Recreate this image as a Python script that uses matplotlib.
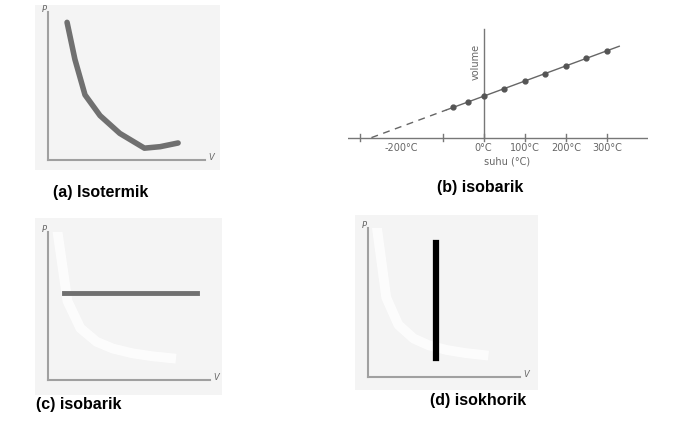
import matplotlib.pyplot as plt
import numpy as np

W, H = 673, 426

# (a) isothermal curve, P vs V (arbitrary units)
iso_v = [0.85, 1.2, 1.65, 2.32, 3.2, 4.3, 5.0, 5.8]
iso_p = [9.3, 6.8, 4.4, 3.0, 1.8, 0.8, 0.9, 1.15]
# (b) Charles' law: volume vs temperature
temp_pts = [-75, -37, 0, 50, 100, 150, 200, 250, 300]
vol_pts = [32, 38, 44, 52, 60, 68, 76, 84, 92]
temp_line = [-90, 330]
vol_line = [29.5, 97]
temp_dash = [-273, -90]
vol_dash = [0, 29.5]
tick_temps = [-300, -100, 0, 100, 200, 300]
label_temps = [-200, 0, 100, 200, 300]
label_text = ["-200\u00b0C", "0\u00b0C", "100\u00b0C", "200\u00b0C", "300\u00b0C"]
# (c) isobaric: constant P
c_v = [0.5, 4.6]
c_p = [2.35, 2.35]
# (d) isochoric: constant V
d_v = [2.24, 2.24]
d_p = [0.5, 3.6]

fig = plt.figure(figsize=(W / 100, H / 100), dpi=100)


def px_axes(x0, y0, x1, y1):
    return fig.add_axes([x0 / W, 1 - y1 / H, (x1 - x0) / W, (y1 - y0) / H])


def pv_panel(rect, bg_rect, curve=True):
    bg = px_axes(*bg_rect)
    bg.set_axis_off()
    bg.add_patch(plt.Rectangle((0, 0), 1, 1, color="#f4f4f4", transform=bg.transAxes))
    ax = px_axes(*rect)
    ax.patch.set_alpha(0)
    for s in ("top", "right"):
        ax.spines[s].set_visible(False)
    for s in ("left", "bottom"):
        ax.spines[s].set_color("#a0a0a0")
        ax.spines[s].set_linewidth(1.5)
    ax.set_xticks([])
    ax.set_yticks([])
    ax.set_xlim(0, 5)
    ax.set_ylim(0, 4)
    ax.text(-0.04, 1.0, "P", transform=ax.transAxes, fontsize=6, style="italic", color="#666")
    ax.text(1.02, 0.0, "V", transform=ax.transAxes, fontsize=6, style="italic", color="#666")
    if curve:
        cv = np.array([0.3, 0.6, 1.0, 1.5, 2.0, 2.6, 3.2, 3.8])
        ax.plot(cv, 1.1 / cv + 0.3, color="white", lw=7, alpha=0.8)
    return ax


# (a)
ax = pv_panel((48, 12, 205, 160), (35, 5, 220, 170), curve=False)
ax.set_xlim(0, 7)
ax.set_ylim(0, 10)
ax.plot(iso_v, iso_p, color="#707070", lw=4, solid_capstyle="round")

# (b)
axb = px_axes(348, 34, 648, 164)
axb.set_xlim(-330, 400)
axb.set_ylim(-28, 110)
axb.set_axis_off()
axb.axhline(0, color="#777", lw=1)
axb.plot([0, 0], [0, 115], color="#777", lw=1, clip_on=False)
for t in tick_temps:
    axb.plot([t, t], [-4, 4], color="#777", lw=1)
axb.plot(temp_line, vol_line, color="#666", lw=1)
axb.plot(temp_dash, vol_dash, color="#666", lw=1, ls=(0, (5, 4)))
axb.plot(temp_pts, vol_pts, "o", color="#555", ms=3.5)
for t, s in zip(label_temps, label_text):
    axb.text(t, -6, s, ha="center", va="top", fontsize=7, color="#666")
axb.text(-8, 100, "volume", rotation=90, ha="right", va="top", fontsize=7, color="#666")
axb.text(0, -20, "suhu (\u00b0C)", ha="left", va="top", fontsize=7, color="#666")

# (c)
ax = pv_panel((48, 232, 210, 380), (35, 218, 222, 395))
ax.plot(c_v, c_p, color="#707070", lw=3.5)

# (d)
ax = pv_panel((368, 228, 520, 377), (355, 215, 538, 390))
ax.plot(d_v, d_p, color="black", lw=4.5)

labels = [(53, 192, "(a) Isotermik"), (437, 188, "(b) isobarik"),
          (36, 405, "(c) isobarik"), (430, 400, "(d) isokhorik")]
for x, y, s in labels:
    fig.text(x / W, 1 - y / H, s, fontsize=11.5, fontweight="bold",
             family="Liberation Sans", va="center")

fig.savefig("out.png", dpi=100)
